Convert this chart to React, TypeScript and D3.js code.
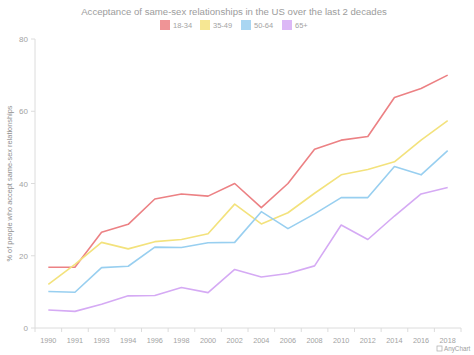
import React from "react";
import * as d3 from "d3";

const years = ["1990","1991","1993","1994","1996","1998","2000","2002","2004","2006","2008","2010","2012","2014","2016","2018"];
const s1834 = [16.8,16.8,26.5,28.7,35.7,37.1,36.5,40.0,33.3,40.0,49.5,52.0,53.0,63.8,66.3,70.0];
const s3549 = [12.1,17.6,23.7,21.9,23.9,24.5,26.1,34.3,28.8,31.9,37.3,42.4,43.9,46.0,52.0,57.4];
const s5064 = [10.1,9.9,16.7,17.1,22.4,22.3,23.6,23.7,32.2,27.5,31.6,36.1,36.1,44.7,42.4,49.1];
const s65 = [5.0,4.6,6.6,8.9,9.0,11.2,9.8,16.2,14.1,15.1,17.2,28.5,24.5,31.0,37.1,38.9];
const seriesNames = ["18-34","35-49","50-64","65+"];
const yTicks = [0,20,40,60,80];
const colors = ["#ec8184","#f3e27c","#98cff0","#d5aaf4"];
const legendColors = ["#ef9496","#f6e793","#a9d6f2","#dcb8f6"];

export default function App() {
  const W = 474, H = 355;
  const left = 35, right = 461, top = 39, bottom = 328;
  const x = d3.scaleBand<string>().domain(years).range([left, right]);
  const y = d3.scaleLinear().domain([0, 80]).range([bottom, top]);
  const line = d3.line<number>().x((_, i) => (x(years[i]) as number) + x.bandwidth() / 2).y(d => y(d));
  const all = [s1834, s3549, s5064, s65];
  const font = "'Liberation Sans', Arial, sans-serif";
  const txt = "#a3a3a3";
  const legendX = [160, 200, 241, 282];
  return (
    <svg width={W} height={H} style={{ position: "absolute", left: 0, top: 0, fontFamily: font }}>
      <rect width={W} height={H} fill="#fff" />
      <text x={234} y={15} textAnchor="middle" fontSize={9.6} fill="#9c9c9c">Acceptance of same-sex relationships in the US over the last 2 decades</text>
      {seriesNames.map((n, i) => (
        <g key={n}>
          <rect x={legendX[i]} y={20} width={10} height={10} fill={legendColors[i]} />
          <text x={legendX[i] + 13} y={28} fontSize={7.5} fill={txt}>{n}</text>
        </g>
      ))}
      <line x1={left} x2={left} y1={top} y2={bottom} stroke="#dcdcdc" />
      {yTicks.map(t => (
        <g key={t}>
          <line x1={left - 4} x2={left} y1={y(t)} y2={y(t)} stroke="#dcdcdc" />
          <text x={left - 7} y={y(t) + 3} textAnchor="end" fontSize={8} fill={txt}>{t}</text>
        </g>
      ))}
      <text transform={`translate(12,${(top + bottom) / 2}) rotate(-90)`} textAnchor="middle" fontSize={7.4} fill="#8f8f8f">% of people who accept same-sex relationships</text>
      <line x1={left} x2={right} y1={bottom} y2={bottom} stroke="#dcdcdc" />
      {years.map((yr) => (
        <g key={yr}>
          <line x1={x(yr) as number} x2={x(yr) as number} y1={bottom} y2={bottom + 4} stroke="#dcdcdc" />
          <text x={(x(yr) as number) + x.bandwidth() / 2} y={bottom + 15} textAnchor="middle" fontSize={7.3} fill={txt}>{yr}</text>
        </g>
      ))}
      <line x1={right} x2={right} y1={bottom} y2={bottom + 4} stroke="#dcdcdc" />
      {all.map((s, i) => (
        <path key={i} d={line(s) || ""} fill="none" stroke={colors[i]} strokeWidth={1.6} strokeLinejoin="round" />
      ))}
      <rect x={437} y={346} width={5} height={5} fill="#fff" stroke="#aaa" strokeWidth={0.7} />
      <text x={444} y={351} fontSize={6.3} fill="#a0a0a0">AnyChart</text>
    </svg>
  );
}
